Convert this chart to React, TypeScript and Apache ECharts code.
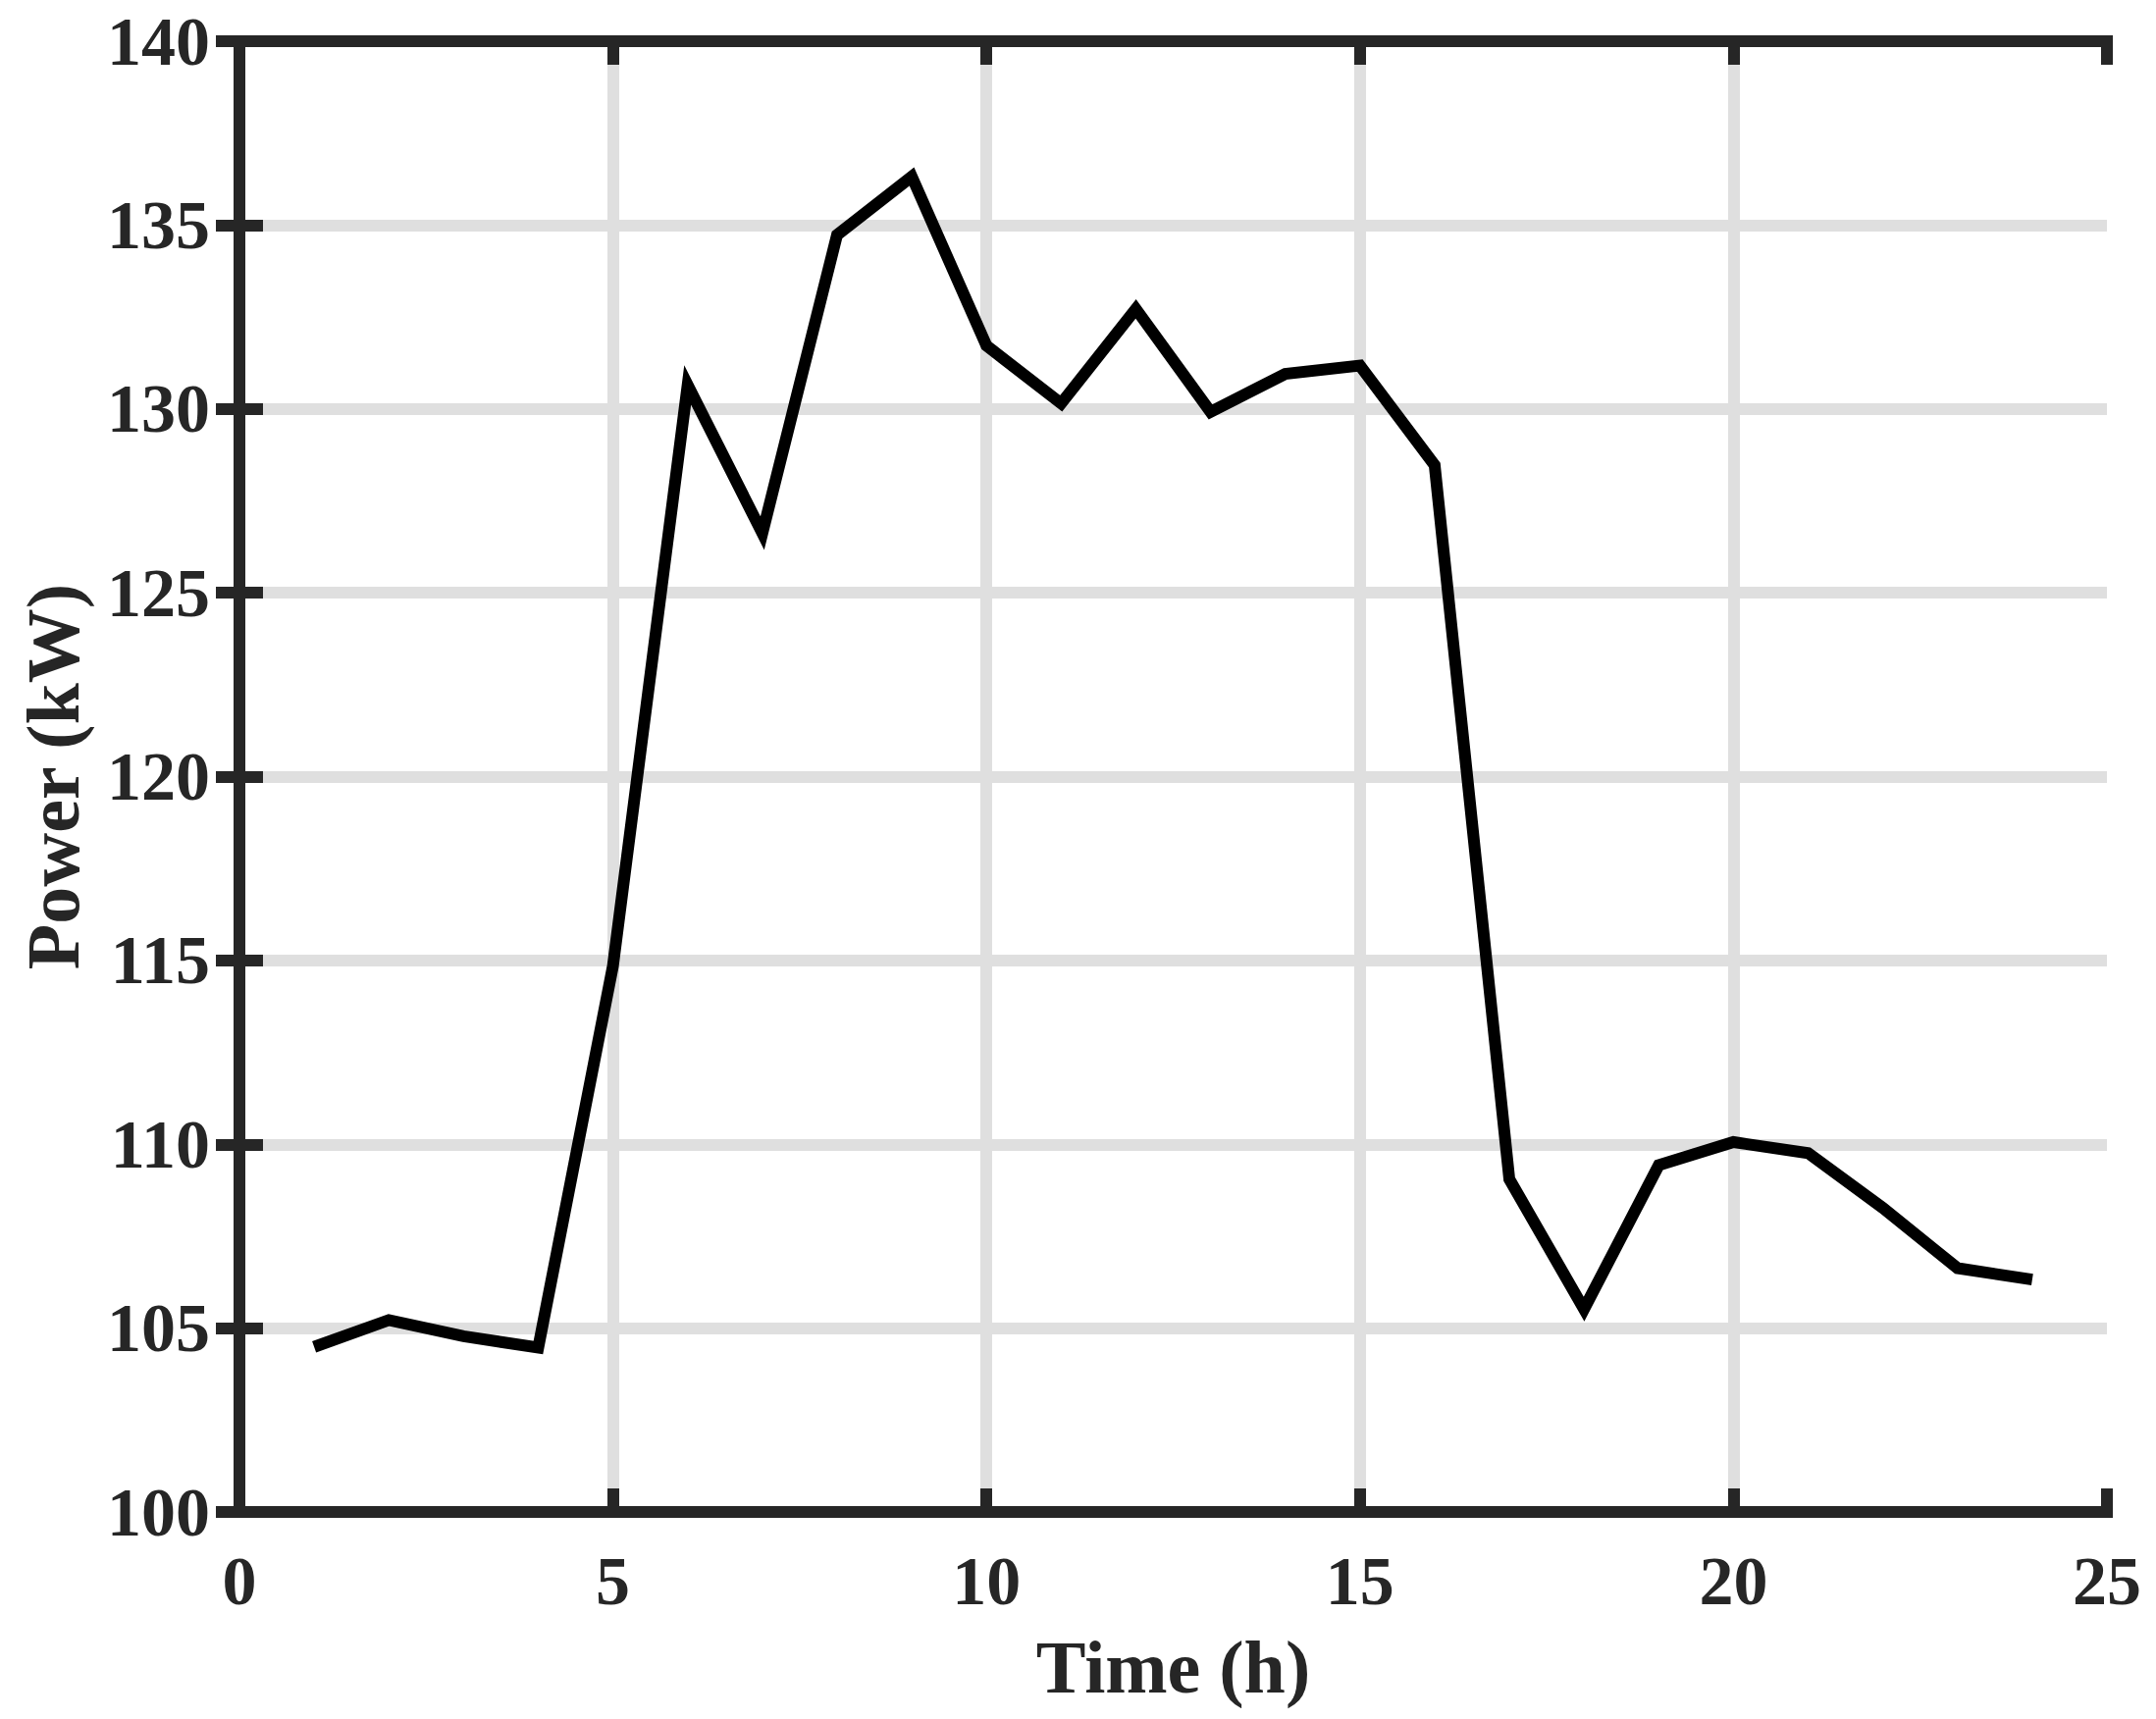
import React, { useEffect, useRef } from "react";
import * as echarts from "echarts";

const hours = [1, 2, 3, 4, 5, 6, 7, 8, 9, 10, 11, 12, 13, 14, 15, 16, 17, 18, 19, 20, 21, 22, 23, 24];
const powerKW = [
  104.49, 105.22, 104.78, 104.47, 114.85, 130.65, 126.62, 134.73, 136.32, 131.72, 130.15, 132.72,
  129.92, 130.95, 131.18, 128.47, 109.05, 105.52, 109.43, 110.06, 109.76, 108.27, 106.63, 106.32,
];
const xTitle = "Time (h)";
const yTitle = "Power (kW)";

const FONT = "'Liberation Serif', 'Times New Roman', serif";
const FRAME = "#262626";

export default function App() {
  const ref = useRef<HTMLDivElement>(null);
  useEffect(() => {
    if (!ref.current) return;
    const chart = echarts.init(ref.current, undefined, { renderer: "svg" });
    const frameLine = { show: true, lineStyle: { color: FRAME, width: 12, cap: "square" } };
    const tick = { show: true, inside: true, length: 24, lineStyle: { color: FRAME, width: 12 } };
    const xBase = { type: "value", min: 0, max: 25, interval: 5 };
    const yBase = { type: "value", min: 100, max: 140, interval: 5 };
    const hidden = { axisLabel: { show: false }, axisTick: { show: false }, axisLine: { show: false } };
    chart.setOption({
      animation: false,
      backgroundColor: "#ffffff",
      grid: { left: 244, right: 50, top: 42, bottom: 211, containLabel: false },
      xAxis: [
        {
          ...xBase,
          position: "bottom",
          z: 5,
          axisLine: frameLine,
          axisTick: tick,
          splitLine: { show: false },
          axisLabel: { show: true, margin: 35, fontFamily: FONT, fontWeight: "bold", fontSize: 70, color: FRAME },
          name: xTitle,
          nameLocation: "middle",
          nameGap: 120,
          nameTextStyle: { fontFamily: FONT, fontWeight: "bold", fontSize: 76, color: FRAME },
        },
        {
          ...xBase,
          position: "top",
          z: 5,
          axisLine: frameLine,
          axisTick: tick,
          axisLabel: { show: false },
          splitLine: { show: false },
        },
        {
          ...xBase,
          position: "bottom",
          z: 0,
          ...hidden,
          splitLine: { show: true, showMinLine: false, showMaxLine: false, lineStyle: { color: "#dfdfdf", width: 12 } },
        },
      ],
      yAxis: [
        {
          ...yBase,
          position: "left",
          z: 5,
          axisLine: frameLine,
          axisTick: tick,
          splitLine: { show: false },
          axisLabel: { show: true, margin: 30, fontFamily: FONT, fontWeight: "bold", fontSize: 70, color: FRAME },
          name: yTitle,
          nameLocation: "middle",
          nameGap: 152,
          nameTextStyle: { fontFamily: FONT, fontWeight: "bold", fontSize: 76, color: FRAME },
        },
        {
          ...yBase,
          position: "right",
          z: 5,
          axisLine: frameLine,
          axisTick: tick,
          axisLabel: { show: false },
          splitLine: { show: false },
        },
        {
          ...yBase,
          position: "left",
          z: 0,
          ...hidden,
          splitLine: { show: true, showMinLine: false, showMaxLine: false, lineStyle: { color: "#dfdfdf", width: 12 } },
        },
      ],
      series: [
        {
          type: "line",
          xAxisIndex: 0,
          yAxisIndex: 0,
          data: hours.map((h, i) => [h, powerKW[i]]),
          showSymbol: false,
          symbol: "none",
          z: 3,
          lineStyle: { color: "#000000", width: 12, join: "miter", cap: "butt" },
        },
      ],
    });
    return () => chart.dispose();
  }, []);
  return (
    <div
      ref={ref}
      style={{ position: "fixed", left: 0, top: 0, width: 2197, height: 1752, background: "#fff" }}
    />
  );
}
